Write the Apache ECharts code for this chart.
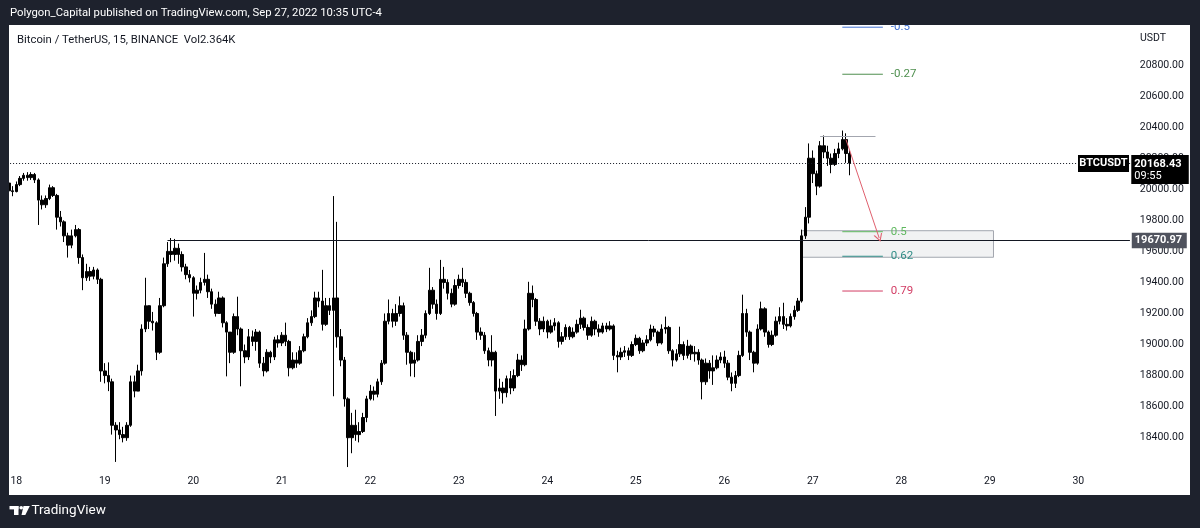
<!DOCTYPE html>
<html><head><meta charset="utf-8">
<script src="https://cdn.jsdelivr.net/npm/echarts@6/dist/echarts.min.js"></script>
<style>html,body{margin:0;padding:0;background:#1e222d}#c{width:1200px;height:528px}</style>
</head><body><div id="c"></div>
<script>
// ---- data (hourly candles, hour offsets from Sep 18 00:00, UTC-4) ----
const startHour = -2;          // first candle: Sep 17 22:00
const totalHours = 305;        // categories shown on the time axis (to Sep 30 ~14:00)
const firstOpen = 20040;
const closes = [
  19990,19985,
  20030,20070,20090,20075,20095,20060,19930,19900,19940,20010,19960,19820,19790,19700,19640,19700,19740,19560,19430,19470,19440,19480,19420,18830,
  18800,18760,18480,18450,18420,18400,18480,18760,18700,18830,19100,19250,19150,19140,18950,19250,19520,19600,19580,19620,19580,19500,19450,19430,
  19330,19350,19400,19420,19340,19260,19200,19300,19140,19080,18950,19180,19100,18960,18920,19050,19020,19080,18880,18830,18950,18920,19030,19010,
  19060,19020,18850,18900,18880,18960,19050,19140,19180,19300,19280,19130,19250,19220,19300,19050,18900,18650,18400,18480,18420,18440,18530,18650,
  18700,18680,18760,18880,19150,19200,19150,19200,19250,19060,18950,18880,18900,19020,19060,19200,19350,19260,19200,19420,19400,19330,19260,19380,
  19420,19400,19330,19270,19200,19080,19060,18960,18900,18950,18700,18720,18690,18780,18720,18800,18900,18870,19100,19330,19290,19150,19100,19150,
  19080,19120,19140,19020,19050,19110,19050,19080,19130,19170,19110,19060,19150,19100,19080,19120,19100,19120,18930,18920,18950,18960,18930,19000,
  19040,18960,19010,19030,19100,19080,19010,19100,19110,18960,18900,18940,19000,18930,18990,18940,18950,18900,18760,18880,18830,18850,18900,18920,
  18880,18790,18750,18800,18930,19200,19080,18950,18880,19100,19230,19080,19000,19060,19150,19180,19130,19120,19180,19220,19280,19700,19820,20200,
  20100,20020,20280,20240,20200,20160,20230,20260,20320,20230,20168.43
];
const lows = [
  19970,19955,
  19980,20020,20055,20055,20060,20040,19770,19870,19880,19930,19950,19740,19760,19660,19560,19620,19690,19520,19350,19410,19410,19420,19390,18760,
  18750,18700,18420,18244,18390,18370,18380,18470,18660,18700,18800,19080,19100,19090,18900,18940,19240,19500,19530,19540,19520,19470,19420,19400,
  19180,19290,19330,19380,19300,19230,19180,19200,19110,18795,18880,18940,19060,18731,18880,18900,18990,18960,18850,18795,18820,18880,18900,18980,
  18990,18990,18795,18840,18850,18870,18950,19040,19120,19170,19240,19090,19120,19190,18667,18980,18860,18600,18211,18300,18380,18370,18430,18500,
  18640,18640,18660,18740,18870,19130,19110,19120,19180,19030,18870,18795,18790,18890,18990,19040,19190,19230,19160,19190,19360,19290,19240,19250,
  19360,19370,19300,19250,19180,19030,19030,18940,18860,18859,18540,18650,18620,18660,18680,18700,18790,18830,18860,19090,19240,19120,19060,19080,
  19040,19070,19090,18980,19000,19030,19030,19040,19070,19100,19090,19030,19050,19060,19050,19070,19080,19090,18900,18821,18900,18920,18900,18920,
  18990,18940,18950,18990,19020,19050,18990,19000,19070,18940,18859,18890,18920,18900,18910,18900,18890,18870,18647,18740,18780,18740,18840,18880,
  18850,18770,18699,18720,18790,18920,19050,18900,18821,18870,19090,19050,18980,18990,19050,19130,19100,19090,19110,19160,19210,19270,19680,19780,
  20040,19962,20010,20200,20150,20103,20150,20200,20250,20170,20090
];
const highs = [
  20050,20020,
  20050,20085,20105,20110,20110,20105,20070,19960,19960,20030,20020,19970,19860,19800,19720,19740,19770,19750,19580,19520,19500,19500,19490,19430,
  18880,18885,18780,18500,18500,18470,18500,18800,18800,18870,19130,19430,19230,19210,19150,19300,19560,19660,19686,19680,19650,19600,19520,19480,
  19440,19380,19430,19590,19450,19360,19290,19340,19310,19150,19080,19200,19308,19110,19000,19100,19090,19100,19090,18920,18970,18960,19050,19060,
  19080,19141,19030,18950,18950,18990,19070,19170,19220,19340,19340,19481,19300,19300,19956,19790,19100,18920,18660,18560,18580,18500,18560,18670,
  18740,18730,18780,18900,19200,19290,19230,19260,19310,19270,19080,18960,18950,19060,19100,19220,19494,19370,19290,19545,19500,19420,19360,19420,
  19450,19494,19420,19340,19280,19210,19110,19080,18980,19060,18960,18780,18760,18800,18830,18840,18940,18930,19160,19404,19380,19300,19170,19180,
  19160,19160,19170,19150,19080,19130,19120,19110,19160,19224,19180,19130,19180,19160,19130,19140,19140,19150,19130,18960,18980,18990,18980,19020,
  19064,19050,19030,19060,19128,19120,19090,19130,19180,19120,18970,18970,19115,19020,19030,19000,18990,18970,18910,18910,18900,18930,18930,18950,
  18960,18900,18820,18830,18960,19321,19230,19090,18960,19130,19276,19240,19090,19090,19180,19240,19269,19170,19200,19250,19300,19740,19885,20295,
  20250,20120,20310,20346,20280,20230,20260,20300,20378,20360,20250
];
const dayLabels = ['18','19','20','21','22','23','24','25','26','27','28','29','30'];
const priceTicks = [18400,18600,18800,19000,19200,19400,19600,19800,20000,20200,20400,20600,20800];
const lastPrice = 20168.43;
const countdown = '09:55';
const symbolName = 'BTCUSDT';
const hLinePrice = 19670.97, hLineStartHour = 41;
const topRayPrice = 20340, topRayHours = [218, 233];
const fibHigh = 20385, fibLow = 19068;
const fibLevels = [-0.5, -0.27, 0.5, 0.62, 0.79];
const fibNames  = ['-0.5', '-0.27', '0.5', '0.62', '0.79'];
const fibColors = ['#3f6fd0', '#4f8f4f', '#5fb85f', '#2f8c86', '#d23c64'];
const fibHours = [224, 235];
const zoneTop = 19733, zoneBottom = 19562, zoneHours = [213, 265];
const arrowFrom = [225, 20320], arrowTo = [234, 19686];
const titleText = 'Polygon_Capital published on TradingView.com, Sep 27, 2022 10:35 UTC-4';
const legendText = 'Bitcoin / TetherUS, 15, BINANCE  Vol2.364K';

// ---- build ----
const cats = [];
for (let i = 0; i < totalHours; i++) cats.push(String(startHour + i));
const candles = closes.map((c, i) => {
  const o = i === 0 ? firstOpen : closes[i - 1];
  return [o, c, Math.min(lows[i], o, c), Math.max(highs[i], o, c)];
});
const lastHour = startHour + totalHours - 1;
const FONT = 'Roboto';
const dark = '#1e222d';
const W = 1200, H = 528;
const gridL = 7.08, gridR = 68.23, gridT = 2.9, gridB = 59.24;
const plotRight = W - gridR;

const fibSeries = fibLevels.map((lv, i) => {
  const p = fibHigh - lv * (fibHigh - fibLow);
  return {
    type: 'line', name: fibNames[i], silent: true, symbol: 'none', z: 3,
    data: [[String(fibHours[0]), p], [String(fibHours[1]), p]],
    lineStyle: {color: fibColors[i], width: 1, type: 'solid'},
    itemStyle: {color: fibColors[i]},
    endLabel: {show: true, distance: 8, color: fibColors[i], fontSize: 11.5, fontFamily: FONT, formatter: fibNames[i]}
  };
});

const chart = echarts.init(document.getElementById('c'), null, {renderer: 'canvas'});
const option = {
  animation: false,
  backgroundColor: '#ffffff',
  grid: {left: gridL, right: gridR, top: gridT, bottom: gridB, containLabel: false, outerBoundsMode: 'none'},
  xAxis: {
    type: 'category', data: cats, boundaryGap: true,
    axisLine: {show: false}, axisTick: {show: false}, splitLine: {show: false},
    axisLabel: {
      interval: (i) => (i + startHour) % 24 === 0,
      formatter: (v) => dayLabels[(+v) / 24] || '',
      color: '#131722', fontSize: 10.5, fontFamily: FONT, margin: 7
    }
  },
  yAxis: {
    type: 'value', position: 'right', min: 18200, max: 21200, interval: 200,
    axisLine: {show: false}, axisTick: {show: false}, splitLine: {show: false},
    axisLabel: {
      margin: 8, color: '#131722', fontSize: 10.5, fontFamily: FONT,
      formatter: (v) => priceTicks.indexOf(v) >= 0 ? v.toFixed(2) : ''
    }
  },
  series: [{
    type: 'candlestick',
    data: candles,
    barWidth: 3,
    itemStyle: {color: '#000', color0: '#000', borderColor: '#000', borderColor0: '#000', borderWidth: 1},
    markArea: {
      silent: true, label: {show: false},
      itemStyle: {color: 'rgba(149,152,161,0.13)', borderColor: '#a3a6af', borderWidth: 1},
      data: [[{coord: [String(zoneHours[0]), zoneTop]}, {coord: [String(zoneHours[1]), zoneBottom]}]]
    },
    markLine: {
      silent: true, symbol: ['none', 'none'], label: {show: false},
      data: [
        {yAxis: lastPrice, lineStyle: {color: '#131722', type: [1, 2], width: 1}},
        [{coord: [String(hLineStartHour), hLinePrice], lineStyle: {color: '#131722', type: 'solid', width: 1}},
         {coord: [String(lastHour), hLinePrice], lineStyle: {color: '#131722', type: 'solid', width: 1}}],
        [{coord: [String(topRayHours[0]), topRayPrice], lineStyle: {color: '#a3a6af', type: 'solid', width: 1}},
         {coord: [String(topRayHours[1]), topRayPrice], lineStyle: {color: '#a3a6af', type: 'solid', width: 1}}],
        [{coord: [String(arrowFrom[0]), arrowFrom[1]], symbol: 'none', lineStyle: {color: '#e0606e', type: 'solid', width: 1}},
         {coord: [String(arrowTo[0]), arrowTo[1]], lineStyle: {color: '#e0606e', type: 'solid', width: 1},
          symbol: 'path://M0,10 L5,0 L10,10 L8.6,10 L5,2.8 L1.4,10 Z', symbolSize: [9, 8]}]
      ]
    }
  }, ...fibSeries]
};
chart.setOption(option);

const yLast = chart.convertToPixel({yAxisIndex: 0}, lastPrice);
const yH = chart.convertToPixel({yAxisIndex: 0}, hLinePrice);
function txt(x, y, text, color, size, weight, align, z) {
  return {type: 'text', x: x, y: y, z: z || 110, silent: true,
    style: {text: text, fill: color, font: (weight || 'normal') + ' ' + size + 'px ' + FONT,
      align: align || 'left', verticalAlign: 'middle', textAlign: align || 'left', textVerticalAlign: 'middle'}};
}
function rect(x, y, w, h, fill, z) {
  return {type: 'rect', z: z || 100, silent: true, shape: {x: x, y: y, width: w, height: h}, style: {fill: fill}};
}
chart.setOption({
  graphic: [
    rect(0, 0, W, 25, dark), rect(0, 0, 9, H, dark), rect(1190, 0, 10, H, dark), rect(0, 495, W, 33, dark),
    txt(10, 13, titleText, '#ffffff', 11.3, 'normal'),
    txt(17, 40, legendText, '#131722', 11.3, 'normal'),
    txt(1140, 38, 'USDT', '#131722', 10.5, 'normal'),
    rect(1078, yLast - 8, 51, 17, '#000000', 105),
    txt(1103.5, yLast + 0.5, symbolName, '#ffffff', 11, 'bold', 'center'),
    rect(plotRight - 0.5, yLast - 8, 57.5, 29, '#000000', 105),
    txt(plotRight + 2.5, yLast + 1.5, lastPrice.toFixed(2), '#ffffff', 11, 'bold'),
    txt(plotRight + 2.5, yLast + 13.5, countdown, '#ffffff', 11, 'normal'),
    rect(plotRight, yH - 7.7, 55, 15.5, '#50535e', 105),
    txt(plotRight + 3, yH + 0.3, hLinePrice.toFixed(2), '#ffffff', 11, 'bold'),
    // TradingView logo
    rect(9.5, 506, 9, 3.4, '#ffffff', 110),
    rect(14, 506, 4.5, 9, '#ffffff', 110),
    {type: 'circle', z: 110, silent: true, shape: {cx: 21.2, cy: 507.8, r: 1.8}, style: {fill: '#ffffff'}},
    {type: 'polygon', z: 110, silent: true, shape: {points: [[23.5, 506], [29.8, 506], [25.3, 515], [21.5, 515]]}, style: {fill: '#ffffff'}},
    txt(31.5, 511, 'TradingView', '#ffffff', 13.5, 'normal')
  ]
});
</script></body></html>
